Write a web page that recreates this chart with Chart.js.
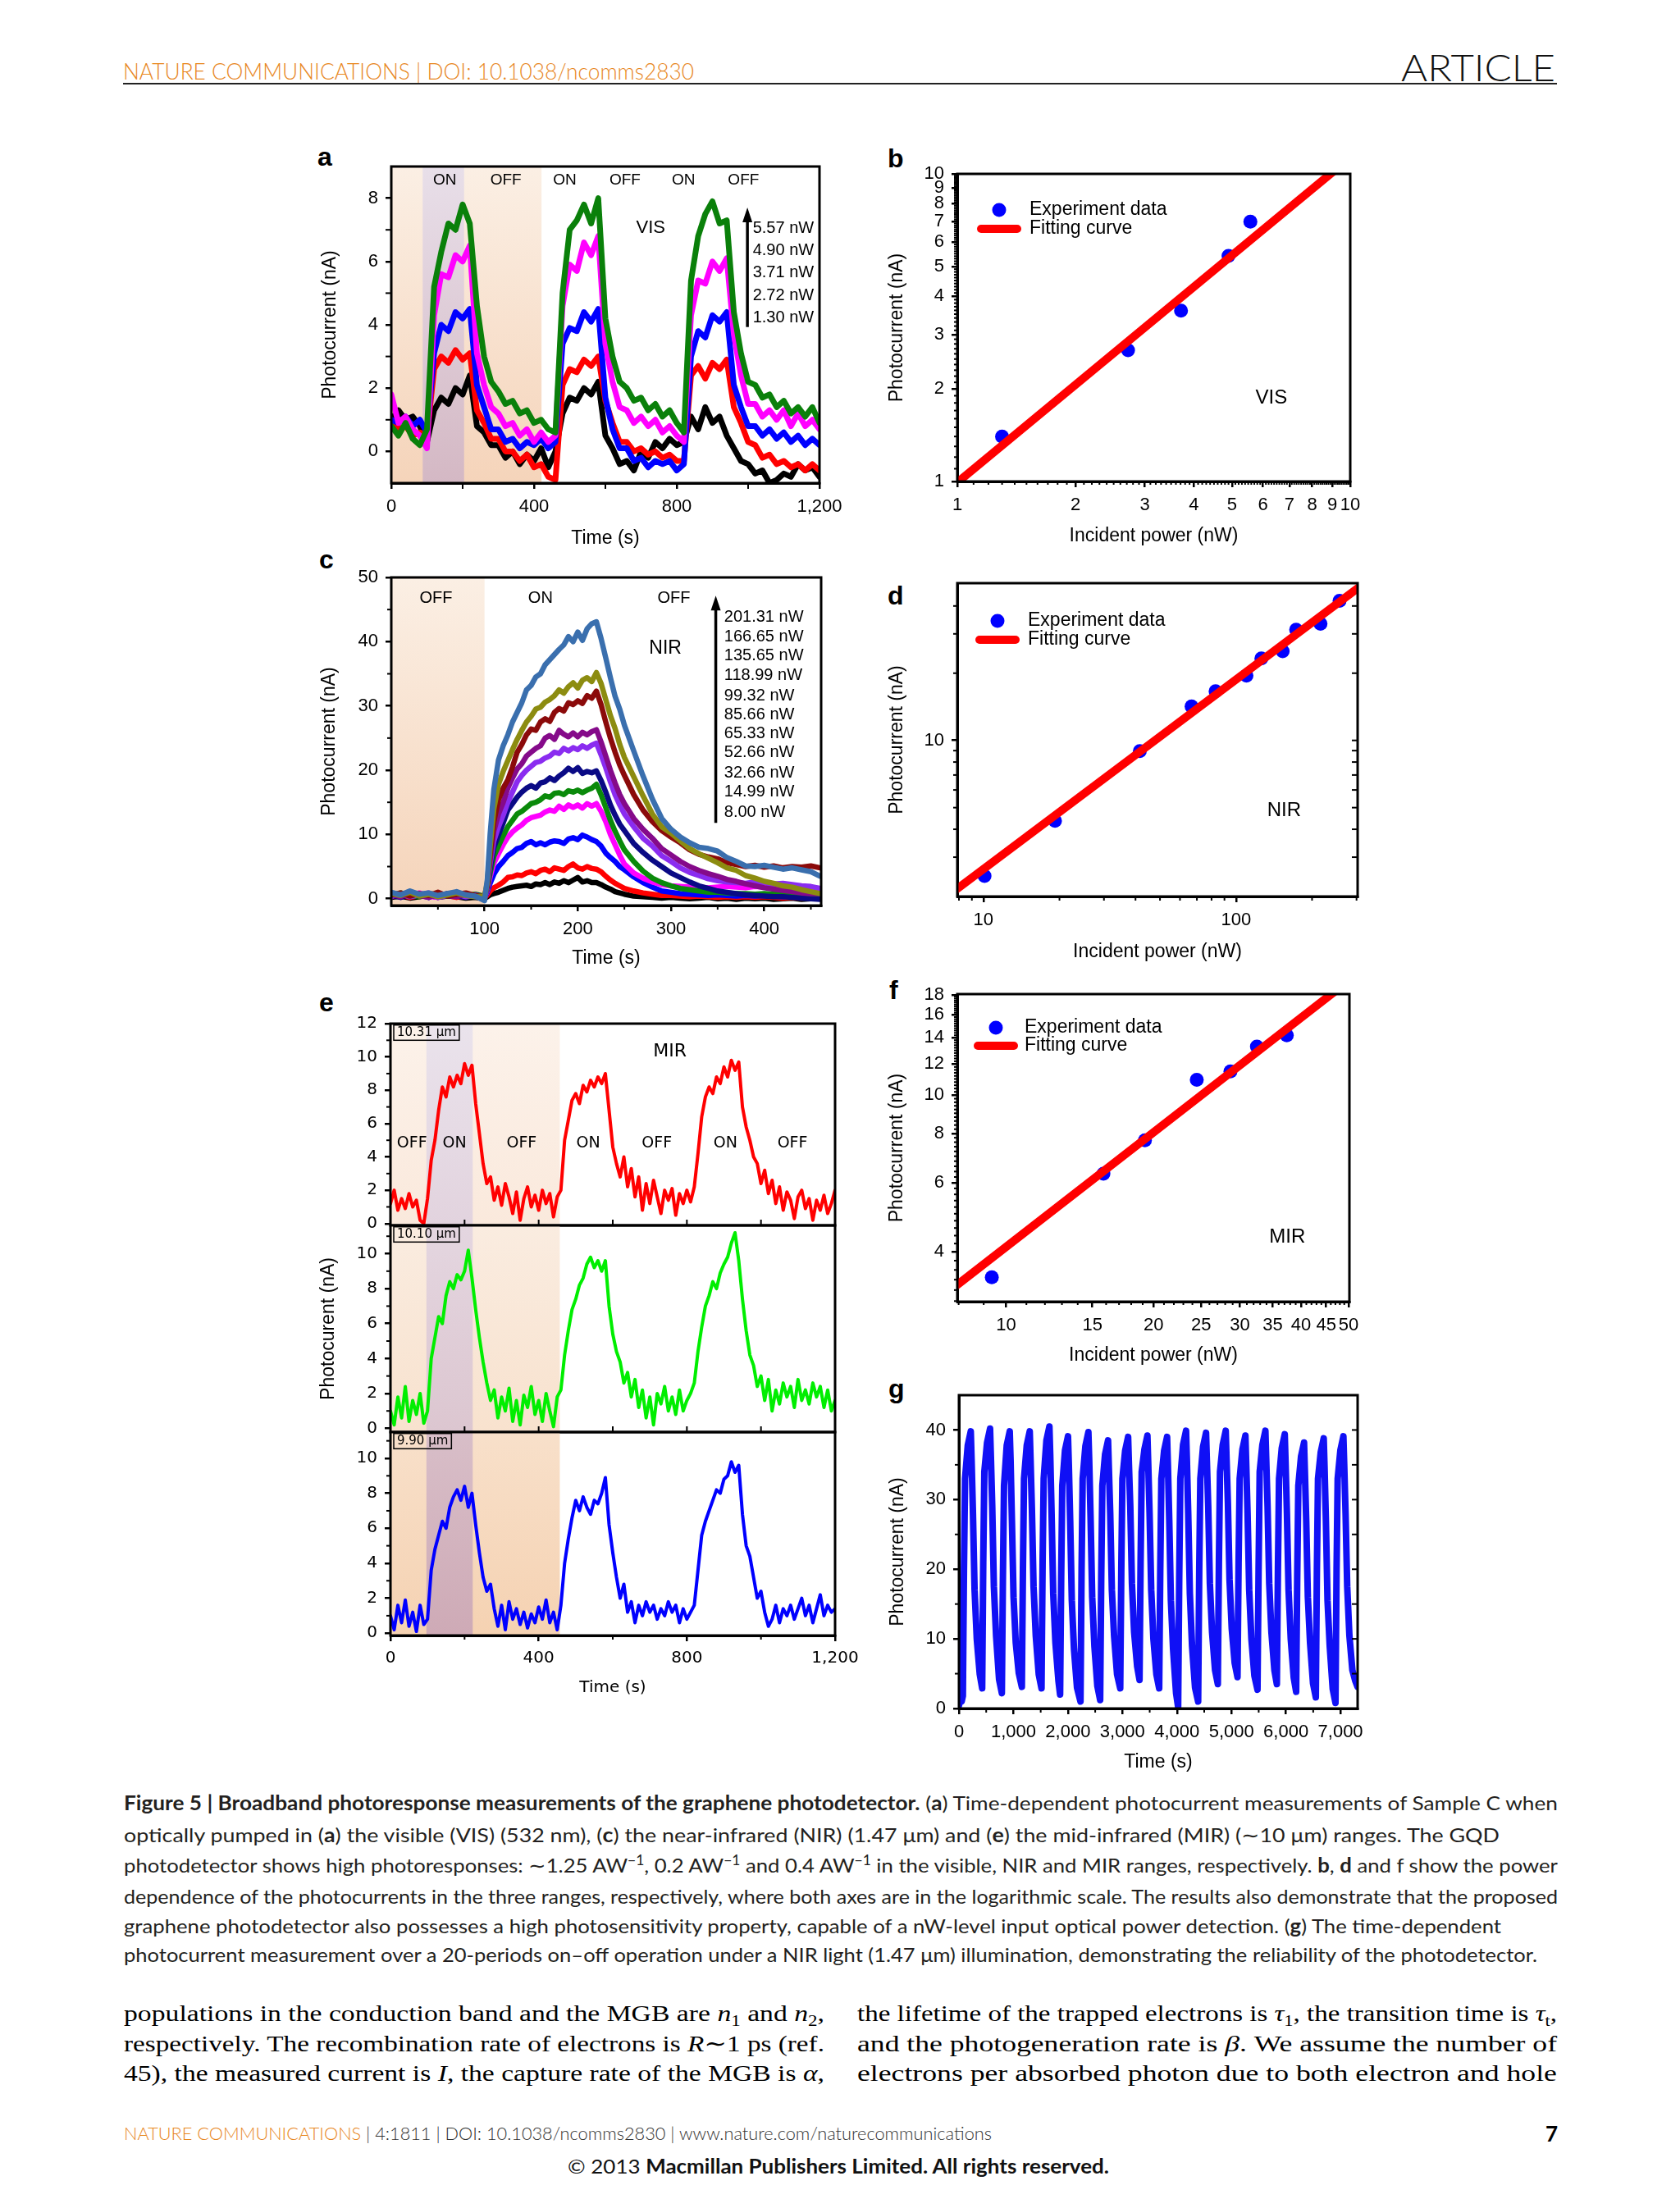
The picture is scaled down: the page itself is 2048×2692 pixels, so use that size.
<!DOCTYPE html>
<html lang="en">
<head>
<meta charset="UTF-8">
<title>Figure 5 - Broadband photoresponse</title>
<style>
  * { box-sizing: border-box; margin: 0; padding: 0; }
  html, body { width: 2048px; height: 2692px; overflow: hidden; background: #fff; }
  body { position: relative; font-family: "Liberation Sans", Arial, sans-serif; }
  .panel { position: absolute; }
  .lab { position: absolute; font: bold 32px "Liberation Sans", Arial, sans-serif; line-height: 1; color: #000; }
  .fit { position: absolute; white-space: nowrap; line-height: 1; transform-origin: 0 50%; }
  .cap { font-family: Lato, "Open Sans", sans-serif; font-size: 24px; color: #231f20; }
  .body { font-family: "Liberation Serif", "DejaVu Serif", serif; font-size: 28px; color: #000; }
  sup { font-size: 0.68em; vertical-align: 0.55em; line-height: 0; }
  sub { font-size: 0.68em; vertical-align: -0.3em; line-height: 0; }
</style>
</head>
<body>

<!-- page header -->
<div class="fit" data-w="696" style="left:150px; top:69px; font: 300 28px Lato, 'Open Sans', sans-serif; color:#e8871e;">NATURE COMMUNICATIONS | DOI: 10.1038/ncomms2830</div>
<div class="fit" data-w="188" style="left:1708px; top:54px; font: 300 46px Lato, 'Open Sans', sans-serif; color:#111;">ARTICLE</div>
<div style="position:absolute; left:150px; top:101px; width:1748px; height:2px; background:#222;"></div>

<!-- panel letters -->
<div class="lab" style="left:387px; top:175px;">a</div>
<div class="lab" style="left:1082px; top:177px;">b</div>
<div class="lab" style="left:389px; top:666px;">c</div>
<div class="lab" style="left:1082px; top:710px;">d</div>
<div class="lab" style="left:389px; top:1206px;">e</div>
<div class="lab" style="left:1084px; top:1191px;">f</div>
<div class="lab" style="left:1083px; top:1677px;">g</div>

<!-- caption -->
<div class="fit cap" data-w="1748" style="left:151px; top:2186px;"><b>Figure 5 | Broadband photoresponse measurements of the graphene photodetector.</b> (<b>a</b>) Time-dependent photocurrent measurements of Sample C when</div>
<div class="fit cap" data-w="1677" style="left:151px; top:2225px;">optically pumped in (<b>a</b>) the visible (VIS) (532 nm), (<b>c</b>) the near-infrared (NIR) (1.47 μm) and (<b>e</b>) the mid-infrared (MIR) (∼10 μm) ranges. The GQD</div>
<div class="fit cap" data-w="1748" style="left:151px; top:2262px;">photodetector shows high photoresponses: ∼1.25 AW<sup>−1</sup>, 0.2 AW<sup>−1</sup> and 0.4 AW<sup>−1</sup> in the visible, NIR and MIR ranges, respectively. <b>b</b>, <b>d</b> and f show the power</div>
<div class="fit cap" data-w="1748" style="left:151px; top:2300px;">dependence of the photocurrents in the three ranges, respectively, where both axes are in the logarithmic scale. The results also demonstrate that the proposed</div>
<div class="fit cap" data-w="1679" style="left:151px; top:2336px;">graphene photodetector also possesses a high photosensitivity property, capable of a nW-level input optical power detection. (<b>g</b>) The time-dependent</div>
<div class="fit cap" data-w="1723" style="left:151px; top:2371px;">photocurrent measurement over a 20-periods on–off operation under a NIR light (1.47 μm) illumination, demonstrating the reliability of the photodetector.</div>

<!-- body text -->
<div class="fit body" data-w="854" style="left:151px; top:2441px;">populations in the conduction band and the MGB are <i>n</i><sub>1</sub> and <i>n</i><sub>2</sub>,</div>
<div class="fit body" data-w="854" style="left:151px; top:2478px;">respectively. The recombination rate of electrons is <i>R</i>∼1 ps (ref.</div>
<div class="fit body" data-w="854" style="left:151px; top:2514px;">45), the measured current is <i>I</i>, the capture rate of the MGB is <i>α</i>,</div>
<div class="fit body" data-w="853" style="left:1045px; top:2441px;">the lifetime of the trapped electrons is <i>τ</i><sub>1</sub>, the transition time is <i>τ</i><sub>t</sub>,</div>
<div class="fit body" data-w="853" style="left:1045px; top:2478px;">and the photogeneration rate is <i>β</i>. We assume the number of</div>
<div class="fit body" data-w="853" style="left:1045px; top:2514px;">electrons per absorbed photon due to both electron and hole</div>

<!-- footer -->
<div class="fit" data-w="1058" style="left:151px; top:2587px; font: 300 22px Lato, 'Open Sans', sans-serif; color:#333;"><span style="color:#e8871e;">NATURE COMMUNICATIONS</span> | 4:1811 | DOI: 10.1038/ncomms2830 | www.nature.com/naturecommunications</div>
<div class="fit" style="left:1884px; top:2585px; font: bold 26px Lato, 'Open Sans', sans-serif;">7</div>
<div class="fit" data-w="660" style="left:692px; top:2626px; font: 24px Lato, 'Open Sans', sans-serif; color:#111;">© 2013 <b>Macmillan Publishers Limited. All rights reserved.</b></div>

<script src="https://cdnjs.cloudflare.com/ajax/libs/Chart.js/4.4.1/chart.umd.min.js"></script>
<script>
// ---------- data ----------
// (a) VIS, time in s, photocurrent in nA
const tA = [0,20,40,60,80,100,120,140,160,180,200,220,240,260,280,300,320,340,360,380,400,420,440,460,480,500,520,540,560,580,600,620,640,660,680,700,720,740,760,780,800,820,840,860,880,900,920,940,960,980,1000,1020,1040,1060,1080,1100,1120,1140,1160,1180,1200];
const aG = [0.8,0.5,0.9,0.4,0.2,0.7,5.2,6.3,7.2,7.0,7.8,7.2,4.6,3.0,2.2,1.9,1.5,1.6,1.2,1.3,0.9,1.0,0.7,0.6,5.0,7.0,7.3,7.8,7.2,8.0,4.2,3.0,2.2,2.0,1.6,1.7,1.3,1.5,1.1,1.3,0.9,0.6,5.4,6.8,7.5,7.9,7.2,7.3,4.4,3.1,2.2,2.1,1.7,1.8,1.4,1.6,1.2,1.4,1.1,1.4,0.9];
const aM = [1.8,0.9,1.1,0.7,0.5,0.1,4.3,5.6,5.5,6.2,6.0,6.5,3.1,2.1,1.4,1.2,0.8,0.9,0.5,0.7,0.3,0.6,0.3,0.5,4.6,5.9,5.7,6.6,6.2,6.8,3.4,2.2,1.4,1.3,0.9,1.1,0.8,1.0,0.6,0.8,0.5,0.3,4.3,5.4,5.3,6.0,5.7,6.1,3.7,2.4,1.5,1.5,1.1,1.3,1.0,1.3,0.8,1.2,0.8,1.0,0.7];
const aB = [1.0,0.9,1.1,0.8,1.0,0.6,3.1,4.0,3.8,4.4,4.2,4.5,2.1,1.4,0.7,0.7,0.3,0.4,0.1,0.3,0.2,0.4,0.1,0.3,3.4,3.9,3.8,4.4,4.1,4.5,1.7,0.7,0.1,0.1,-0.3,-0.2,-0.5,-0.3,-0.4,-0.3,-0.6,-0.4,3.0,3.8,3.6,4.3,4.1,4.4,2.1,1.4,0.8,0.8,0.5,0.7,0.4,0.6,0.3,0.5,0.2,0.4,0.2];
const aR = [0.9,0.7,0.8,0.5,0.6,0.5,2.6,3.0,2.8,3.2,2.9,3.1,1.3,0.9,0.4,0.4,0.0,0.0,-0.3,-0.1,-0.5,-0.4,-0.8,-0.9,2.1,2.6,2.5,2.9,2.7,3.0,1.6,0.9,0.3,0.3,0.0,0.1,-0.1,0.0,-0.2,-0.1,-0.3,-0.3,2.4,2.7,2.3,2.8,2.6,2.9,1.4,0.9,0.3,0.2,-0.2,-0.1,-0.4,-0.3,-0.5,-0.4,-0.6,-0.4,-0.6];
const aK = [1.0,1.3,1.0,1.1,0.8,0.3,1.3,1.7,1.5,2.0,1.8,2.4,0.8,0.6,0.2,0.2,-0.2,0.0,-0.4,-0.1,-0.3,0.1,-0.5,0.0,1.2,1.7,1.6,2.0,1.8,2.2,0.5,0.1,-0.4,-0.3,-0.6,0.0,-0.2,0.3,0.1,0.4,0.2,0.3,1.1,0.7,1.4,0.9,1.1,0.5,0.1,-0.3,-0.4,-0.7,-0.6,-1.0,-0.9,-0.7,-0.8,-0.4,-0.6,-0.5,-0.8];
const aPowers = ['5.57 nW','4.90 nW','3.71 nW','2.72 nW','1.30 nW'];

// (b) VIS power dependence
const bX = [1.30,2.72,3.71,4.90,5.57];
const bY = [1.40,2.67,3.59,5.41,6.99];
const bFitX = [0.95,10];
const bFitY = [0.94,11.3];

// (c) NIR, time in s
const tC = [0,10,20,30,40,50,60,70,80,90,100,103,106,110,115,120,125,130,135,140,145,150,155,160,165,170,175,180,185,190,195,200,205,210,215,220,225,230,235,240,245,250,260,270,280,290,300,310,320,330,340,350,360,370,380,390,400,410,420,430,440,450,460];
const c1 = [1.0,0.6,1.2,0.7,0.9,0.5,0.8,1.1,0.6,0.4,-0.3, 3,10,17,21.6, 23.8,25.5,27.5,29,30.5,32.5,33.2,34.5,35,36.4,37.2,38,38.8,39.5,40.8,40,41.5,40.2,42,42.8,43.1,40.5,37.5,34.4,31.5,29.5,27, 23,19.1,15.5,12.5,10.8,9.6,8.7,8.0,7.8,7.4,6.4,5.8,5.1,5.0,5.2,4.9,4.6,4.8,4.5,4.2,3.5];
const c2 = [0.8,0.5,1.0,0.4,0.7,0.3,0.6,0.9,0.5,0.3,0.4, 2.5,8,14,17.8, 19.8,21.5,23.2,24.8,26.2,27.5,28.4,29.5,29.8,30.6,31,31.6,32.5,32,33,33.6,32.8,34,34.4,33.8,35.2,33.5,31,28.5,26.5,24,22, 19,16,13.2,11.2,10.2,9.0,7.8,7.0,6.3,5.6,4.8,4.4,3.6,3.2,2.7,2.4,2.0,1.8,1.4,1.1,0.8];
const c3 = [0.6,0.9,0.4,0.8,0.5,1.0,0.4,0.7,0.9,0.5,0.3, 2.2,7,12,15.4, 17.2,18.5,20.5,22.8,24,25.5,26.4,26.2,27.5,28,27.6,29,29.6,29.2,30.5,30.2,30.8,30.4,31.6,31.2,32.3,30.2,27.5,25,22.8,20.8,19.2, 16.2,13.8,12,10.6,9.6,8.7,7.6,6.9,6.5,6.2,5.6,5.3,5.0,5.2,4.9,5.1,4.8,5.0,4.9,5.1,4.8];
const c4 = [0.7,0.3,0.9,0.5,0.2,0.8,0.6,0.3,0.7,0.4,0.2, 2,6,10.5,13.2, 15,17.2,18.8,20.2,21,22.2,22.8,23.4,23.8,25,25.4,24.8,26.2,25.6,25.2,25.8,25.2,25.9,25.5,26,26.3,24.4,22.2,20,18,16.2,14.8, 12.5,10.8,9.4,7.8,6.8,5.8,5.0,4.4,3.9,3.5,3.0,2.7,2.3,2.0,1.7,1.5,1.3,1.1,0.9,0.8,0.8];
const c5 = [0.4,0.8,0.3,0.6,0.9,0.2,0.5,0.7,0.3,0.6,0.1, 1.8,5.5,9,11.2, 13,15,16.6,18.2,19.2,20,20.6,21.2,21.4,21.9,22.2,22.8,22.6,23.4,23,23.5,23.2,23.8,23.4,23.9,24.2,22.4,20.4,18.2,16.2,14.6,13.2, 11.2,9.4,8.2,6.7,5.8,4.8,4.1,3.6,3.1,2.8,2.6,2.5,2.4,2.6,2.5,2.3,2.4,2.2,2.0,1.9,1.6];
const c6 = [0.5,0.2,0.7,0.4,0.6,0.3,0.8,0.4,0.2,0.6,0.3, 1.6,4.8,8,9.9, 11.8,13.8,14.8,15.8,16.6,17.2,17.6,17.2,18,18.2,18.8,18.4,19.1,19.6,20.3,19.8,20.4,19.5,19.8,19.6,19.9,18.4,16.6,14.6,13.0,11.6,10.6, 8.6,7.2,6.0,5.0,4.0,3.3,2.6,2.0,1.6,1.2,1.0,0.8,0.6,0.5,0.4,0.3,0.3,0.2,0.1,0.0,-0.1];
const c7 = [0.6,0.9,0.5,0.3,0.8,0.6,0.4,0.9,0.5,0.7,0.4, 1.5,4,6.6,8.2, 9.8,11.2,12.2,13.2,13.6,14.2,14.8,15,15.4,16,15.8,16.4,16.5,16.2,16.8,16.6,16.9,16.5,16.9,17.2,17.8,16.2,14.2,12.2,10.5,9.0,7.6, 5.8,4.3,3.2,2.5,2.0,1.6,1.4,1.2,1.0,1.0,0.9,0.8,0.8,0.7,0.8,0.7,0.8,0.7,0.8,0.7,0.8];
const c8 = [0.3,0.7,0.5,0.9,0.4,0.2,0.6,0.8,0.3,0.5,0.2, 1.3,3.4,5.5,7, 8.4,9.6,10.4,11,11.5,12.2,12.6,12.8,13,13.5,13.8,13.6,14.4,13.9,14.6,14.2,14.6,14.1,14.8,14.4,14.8,13.6,12,10,8.4,6.8,5.4, 4.0,3.2,2.6,2.2,2.0,1.9,1.8,1.8,1.7,1.8,1.9,1.8,1.7,1.9,1.8,2.0,1.9,1.8,1.9,1.7,1.6];
const c9 = [0.5,0.3,0.8,0.6,0.2,0.7,0.4,0.5,0.8,0.3,0.2, 1,2.4,3.8,5, 5.8,6.7,7.2,7.8,8.0,8.6,8.9,8.4,8.7,8.4,8.8,9.0,8.9,8.6,9.3,9.5,9.2,9.9,9.6,9.2,8.9,8.2,7.1,6.4,5.8,5.0,4.5, 3.4,2.5,1.8,1.2,1.0,0.8,0.7,0.6,0.5,0.6,0.5,0.4,0.5,0.4,0.5,0.4,0.3,0.4,0.3,0.4,0.3];
const c10 = [0.4,0.6,0.2,0.5,0.3,0.7,0.5,0.2,0.4,0.6,0.1, 0.6,1.2,1.7,2.1, 2.6,3.3,3.4,3.7,3.6,4.0,4.2,3.9,4.4,4.6,4.2,4.8,4.6,4.4,5.0,5.4,4.8,4.6,5.0,4.7,4.6,4.2,3.5,2.9,2.4,2.0,1.6, 1.2,0.9,0.7,0.5,0.5,0.4,0.3,0.4,0.3,0.2,0.3,0.2,0.3,0.2,0.3,0.2,0.1,0.2,0.1,0.2,0.1];
const c11 = [0.2,0.4,0.1,0.3,0.5,0.2,0.4,0.3,0.1,0.2,0.0, 0.3,0.6,0.8,1.0, 1.3,1.6,1.8,1.9,2.0,2.1,1.9,2.3,2.2,2.5,2.2,2.6,2.4,2.8,2.5,2.9,3.3,2.6,2.8,2.5,2.5,2.2,1.8,1.5,1.1,0.9,0.7, 0.4,0.3,0.2,0.1,0.2,0.1,0.0,0.1,0.2,0.0,0.1,-0.1,0.1,0.0,0.1,-0.1,0.0,0.1,-0.1,0.0,0.1];
const cPowers = ['201.31 nW','166.65 nW','135.65 nW','118.99 nW','99.32 nW','85.66 nW','65.33 nW','52.66 nW','32.66 nW','14.99 nW','8.00 nW'];

// (d) NIR power dependence
const dX = [10.1,19.2,41.6,66.7,83,110,126,153,173,216,257];
const dY = [2.47,4.36,8.96,14.2,16.6,19.5,23.3,25.1,31.3,33.3,42.2];
const dFitX = [7.5,310];
const dFitY = [2.08,48.9];

// (e) MIR, three wavelengths, time in s
const tE = [0,10,20,30,40,50,60,70,80,90,100,110,120,130,140,150,160,170,180,190,200,210,220,230,240,250,260,270,280,290,300,310,320,330,340,350,360,370,380,390,400,410,420,430,440,450,460,470,480,490,500,510,520,530,540,550,560,570,580,590,600,610,620,630,640,650,660,670,680,690,700,710,720,730,740,750,760,770,780,790,800,810,820,830,840,850,860,870,880,890,900,910,920,930,940,950,960,970,980,990,1000,1010,1020,1030,1040,1050,1060,1070,1080,1090,1100,1110,1120,1130,1140,1150,1160,1170,1180,1190,1200];
const e1031 = [1.2,2.0,0.8,1.5,0.9,1.8,1.0,1.4,0.2,0.0,
  1.5,3.8,5.0,6.8,8.2,7.6,8.8,8.2,8.9,8.4,9.6,8.9,9.5,
  7.2,5.4,3.6,2.4,2.8,1.4,2.2,1.1,2.4,1.6,0.6,1.9,0.2,1.5,2.2,1.0,1.7,0.8,2.0,1.2,1.8,0.4,1.6,
  2.0,5.0,6.2,7.4,7.8,7.2,8.3,7.9,8.6,8.2,8.8,8.4,9.0,
  6.8,4.6,3.6,2.8,4.0,2.2,3.3,1.6,2.8,0.8,2.4,1.2,2.6,1.6,0.6,2.0,1.4,2.1,0.5,1.8,1.2,2.0,1.3,
  2.2,4.2,6.4,7.6,8.2,7.8,8.8,8.4,9.4,8.8,9.8,9.2,9.7,
  7.0,5.8,5.0,4.0,3.6,2.4,3.2,1.8,2.6,1.2,2.2,0.8,1.9,1.4,0.3,1.6,2.0,0.9,1.5,0.2,1.4,0.8,1.7,0.6,1.2,2.0];
const e1010 = [1.0,0.2,1.8,0.6,2.4,0.4,1.6,0.8,2.0,0.3,
  1.0,4.0,5.2,6.4,6.0,7.6,8.4,8.0,8.8,8.5,9.0,10.2,8.6,
  6.8,5.2,3.8,2.6,1.6,2.2,0.6,1.8,1.0,2.3,0.4,1.6,0.2,1.9,1.2,2.4,0.8,1.6,0.4,2.0,1.0,0.1,1.8,
  2.2,4.2,5.6,6.8,7.4,8.2,8.6,9.4,9.8,9.2,9.6,9.0,9.6,
  7.0,5.4,4.4,3.8,2.6,3.2,1.8,2.8,1.2,2.2,0.6,1.8,0.2,2.0,1.4,2.4,1.0,1.8,0.8,2.2,1.0,1.6,2.0,
  2.6,4.4,5.8,7.0,7.6,8.4,8.0,8.9,9.4,9.8,10.6,11.2,9.6,
  7.4,5.6,4.2,3.6,2.4,3.0,1.6,2.8,1.0,2.2,1.4,2.6,1.8,2.4,1.2,2.8,1.6,2.2,1.4,2.6,1.8,2.4,1.2,2.2,1.0,1.6];
const e990 = [1.0,0.2,1.6,0.6,1.9,0.4,1.2,0.1,1.6,0.5,
  0.8,3.6,4.8,5.6,6.4,6.0,7.2,7.8,8.2,7.6,8.4,7.2,8.0,
  6.2,4.6,3.2,2.4,2.8,1.4,0.4,1.6,0.2,1.8,0.8,1.4,0.5,1.2,0.3,1.1,0.6,1.5,0.8,1.9,0.6,1.2,0.2,
  1.6,4.0,5.4,6.6,7.6,7.0,7.8,7.2,6.8,7.6,7.4,8.0,8.9,
  6.2,4.6,3.2,2.0,2.8,1.2,1.8,0.6,1.6,1.0,1.8,1.2,1.6,0.8,1.4,1.0,1.8,1.2,1.6,0.6,1.4,0.8,1.2,
  1.6,3.6,5.6,6.4,7.0,7.6,8.2,8.0,8.8,9.0,9.8,9.2,9.6,
  6.8,5.0,4.4,3.2,2.0,2.4,1.2,0.4,0.8,1.6,0.6,1.4,1.0,1.6,0.8,1.4,2.0,1.0,1.6,0.6,1.4,2.2,1.0,1.6,1.2,1.4];

// (f) MIR power dependence
const fX = [9.35,15.8,19.2,24.5,28.7,32.5,37.4];
const fY = [3.45,6.32,7.68,10.95,11.5,13.3,14.2];
const fFitX = [7.9,47];
const fFitY = [3.28,18.4];

// (g) 20 on-off periods under NIR light
const gT = [0,25,50,
  72,92,112,162,217,232,257,287,327,382,
  426,446,466,516,571,586,611,641,681,736,
  787,807,827,877,932,947,972,1002,1042,1097,
  1154,1174,1194,1244,1299,1314,1339,1369,1409,1464,
  1515,1535,1555,1605,1660,1675,1700,1730,1770,1825,
  1856,1876,1896,1946,2001,2016,2041,2071,2111,2166,
  2230,2250,2270,2320,2375,2390,2415,2445,2485,2540,
  2591,2611,2631,2681,2736,2751,2776,2806,2846,2901,
  2959,2979,2999,3049,3104,3119,3144,3174,3214,3269,
  3313,3333,3353,3403,3458,3473,3498,3528,3568,3623,
  3674,3694,3714,3764,3819,3834,3859,3889,3929,3984,
  4022,4042,4062,4112,4167,4182,4207,4237,4277,4332,
  4389,4409,4429,4479,4534,4549,4574,4604,4644,4699,
  4750,4770,4790,4840,4895,4910,4935,4965,5005,5060,
  5111,5131,5151,5201,5256,5271,5296,5326,5366,5421,
  5478,5498,5518,5568,5623,5638,5663,5693,5733,5788,
  5833,5853,5873,5923,5978,5993,6018,6048,6088,6143,
  6187,6207,6227,6277,6332,6347,6372,6402,6442,6497,
  6548,6568,6588,6638,6693,6708,6733,6763,6803,6858,
  6909,6929,6949,6999,7054,7069,7094,7124,7164,7219,
  7270,7315];
const gY = [0.4,1.5,1.0,
  1.8,20,33,37.8,39.8,35.8,28,17,10,4.9,
  2.9,21,34,38.2,40.2,36.2,29,17.5,10.5,4.2,
  2.2,19,32,37.8,39.8,35.8,27,16,9.5,5.1,
  3.1,20,33,37.8,39.8,35.8,28.5,17.5,10.5,4.9,
  2.9,21,33,38.5,40.5,36.5,28,16.5,9.5,4.0,
  2.0,19,32,37.1,39.1,35.1,27,15.5,8.5,3.0,
  1.0,20,33,37.7,39.7,35.7,27.5,16,9,3.2,
  1.2,19,32,36.5,38.5,34.5,28,17,10.5,4.9,
  2.9,20,33,37,39.0,35,29,18,11,6.1,
  4.1,21,34,37.2,39.2,35.2,28,17,10,4.9,
  2.9,20,33,37,39.0,35,27,15.5,8.5,2.2,
  0.2,19,33,37.9,39.9,35.9,28,16.5,9,3.0,
  1.0,20,33,37.6,39.6,35.6,29,18,11,5.5,
  3.5,21,34,37.9,39.9,35.9,29.5,18.5,11.5,6.5,
  4.5,21,33,37.2,39.2,35.2,28,17,10,4.7,
  2.7,20,34,37.9,39.9,35.9,29,18,11,5.5,
  3.5,20,33,37.4,39.4,35.4,28,17,10,4.4,
  2.4,19,32,36.2,38.2,34.2,27,16,9.5,3.6,
  1.6,20,33,36.8,38.8,34.8,27,15.5,9,2.8,
  0.8,20,33,37.1,39.1,35.1,28,17.5,10.5,5.5,
  4.0,3.1];

// ---------- helpers ----------
const FONT = '"Liberation Sans", Arial, Helvetica, sans-serif';
const DJV = '"DejaVu Sans", Verdana, sans-serif';
Chart.defaults.font.family = FONT;
Chart.defaults.color = '#000';

const fmt = v => v >= 1000 ? v.toLocaleString('en-US') : String(v);
const pts = (xs, ys) => xs.map((v, i) => ({ x: v, y: ys[i] }));

function ser(xs, ys, color, w) {
  return { data: pts(xs, ys), borderColor: color, backgroundColor: color, borderWidth: w,
           pointRadius: 0, tension: 0, borderJoinStyle: 'round', borderCapStyle: 'round', fill: false };
}

function ax(type, min, max, list, title, o) {
  o = o || {};
  return {
    type, min, max, display: !o.hide,
    border: { color: '#000', width: 3 },
    grid: { drawOnChartArea: false, tickLength: 7, color: '#000', lineWidth: 2.5 },
    ticks: { color: '#000', font: { family: o.fam || FONT, size: o.fs || 22 }, padding: 9,
             autoSkip: false, maxRotation: 0, minRotation: 0, callback: v => fmt(v) },
    afterBuildTicks: s => { s.ticks = list.map(v => ({ value: v })); },
    title: { display: !!title, text: title || '', color: '#000',
             font: { family: o.tfam || FONT, size: o.tfs || 23 }, padding: 0 }
  };
}

// per-chart decorations: shaded bands, minor ticks, frame, texts, arrows, legend
const deco = {};
const decoPlugin = {
  id: 'deco',
  beforeDatasetsDraw(chart) {
    const d = deco[chart.canvas.id];
    if (!d || !d.bands) return;
    const { ctx, chartArea: ca, scales: { x } } = chart;
    ctx.save();
    d.bands.forEach(b => {
      const x1 = Math.max(ca.left, x.getPixelForValue(b.from));
      const x2 = Math.min(ca.right, x.getPixelForValue(b.to));
      const g = ctx.createLinearGradient(0, ca.top, 0, ca.bottom);
      g.addColorStop(0, b.c[0]);
      g.addColorStop(1, b.c[1]);
      ctx.fillStyle = g;
      ctx.fillRect(x1, ca.top, x2 - x1, ca.bottom - ca.top);
    });
    ctx.restore();
  },
  afterDraw(chart) {
    const d = deco[chart.canvas.id];
    if (!d) return;
    const { ctx, chartArea: ca, scales: { x, y } } = chart;
    const seg = (a, b, c, e) => { ctx.beginPath(); ctx.moveTo(a, b); ctx.lineTo(c, e); ctx.stroke(); };
    ctx.save();
    ctx.strokeStyle = '#000';
    ctx.lineWidth = 2;
    const m = d.minor || {};
    const len = m.len || 4;
    const inX = p => p >= ca.left - 0.5 && p <= ca.right + 0.5;
    const inY = p => p >= ca.top - 0.5 && p <= ca.bottom + 0.5;
    (m.x || []).forEach(v => { const p = x.getPixelForValue(v); if (inX(p)) seg(p, ca.bottom, p, ca.bottom + len); });
    (m.xin || []).forEach(v => { const p = x.getPixelForValue(v); if (inX(p)) seg(p, ca.bottom, p, ca.bottom - len - 2); });
    (m.y || []).forEach(v => { const p = y.getPixelForValue(v); if (inY(p)) seg(ca.left - len, p, ca.left, p); });
    (m.yr || []).forEach(v => { const p = y.getPixelForValue(v); if (inY(p)) seg(ca.right - len - 2, p, ca.right, p); });

    ctx.lineWidth = 3;
    ctx.strokeRect(ca.left, ca.top, ca.right - ca.left, ca.bottom - ca.top);

    ctx.fillStyle = '#000';
    ctx.textBaseline = 'middle';
    (d.texts || []).forEach(t => {
      ctx.font = t.size + 'px ' + (t.fam || FONT);
      ctx.textAlign = t.align || 'center';
      const px = t.px ? ca.left + t.x : x.getPixelForValue(t.x);
      const py = t.px ? ca.top + t.y : y.getPixelForValue(t.y);
      ctx.fillText(t.t, px, py);
      if (t.box) {
        const w = ctx.measureText(t.t).width;
        ctx.lineWidth = 1.5;
        ctx.strokeRect(px - 4, py - t.size * 0.62, w + 8, t.size * 1.24);
      }
    });

    (d.arrows || []).forEach(a => {
      const px = x.getPixelForValue(a.x), p1 = y.getPixelForValue(a.y1), p2 = y.getPixelForValue(a.y2);
      ctx.lineWidth = 3.5;
      seg(px, p1, px, p2 + 10);
      ctx.beginPath();
      ctx.moveTo(px, p2 - 2);
      ctx.lineTo(px - 6, p2 + 16);
      ctx.lineTo(px + 6, p2 + 16);
      ctx.closePath();
      ctx.fill();
    });

    if (d.legend) {
      const L = d.legend;
      ctx.fillStyle = '#0000ff';
      ctx.beginPath();
      ctx.arc(ca.left + L.mx, ca.top + L.y1, 8.5, 0, Math.PI * 2);
      ctx.fill();
      ctx.strokeStyle = '#ff0000';
      ctx.lineWidth = 10;
      ctx.lineCap = 'round';
      seg(ca.left + L.mx - 22, ca.top + L.y2, ca.left + L.mx + 22, ca.top + L.y2);
      ctx.lineCap = 'butt';
      ctx.fillStyle = '#000';
      ctx.font = '23px ' + FONT;
      ctx.textAlign = 'left';
      ctx.fillText('Experiment data', ca.left + L.tx, ca.top + L.y1);
      ctx.fillText('Fitting curve', ca.left + L.tx, ca.top + L.y2);
    }
    ctx.restore();
  }
};
Chart.register(decoPlugin);

// box = plot area [left, top, right, bottom] on the page; L/B = space for y/x axis
function makeChart(id, box, L, B, PB, cfg) {
  const PT = 26, PR = 46;
  const div = document.createElement('div');
  div.className = 'panel';
  div.style.left = (box[0] - L) + 'px';
  div.style.top = (box[1] - PT) + 'px';
  div.style.width = (box[2] - box[0] + L + PR) + 'px';
  div.style.height = (box[3] - box[1] + PT + B + PB) + 'px';
  const cv = document.createElement('canvas');
  cv.id = id;
  div.appendChild(cv);
  document.body.appendChild(div);
  const o = cfg.options;
  o.responsive = true;
  o.maintainAspectRatio = false;
  o.animation = false;
  o.events = [];
  o.layout = { padding: { top: PT, right: PR, bottom: PB, left: 0 } };
  o.plugins = { legend: { display: false }, tooltip: { enabled: false } };
  o.scales.x.afterFit = s => { s.height = B; };
  o.scales.y.afterFit = s => { s.width = L; };
  return new Chart(cv, cfg);
}

const PEACH = ['rgb(251,239,228)', 'rgb(245,212,186)'];
const LAV = ['rgb(232,223,233)', 'rgb(212,184,196)'];

// ---------- (a) ----------
deco.cA = {
  bands: [{ from: 0, to: 421, c: PEACH }, { from: 88, to: 204, c: LAV }],
  minor: { x: [200, 600, 1000], y: [1, 3, 5, 7], len: 7 },
  texts: [
    { x: 150, y: 8.56, t: 'ON', size: 19 }, { x: 321, y: 8.56, t: 'OFF', size: 19 },
    { x: 486, y: 8.56, t: 'ON', size: 19 }, { x: 655, y: 8.56, t: 'OFF', size: 19 },
    { x: 819, y: 8.56, t: 'ON', size: 19 }, { x: 987, y: 8.56, t: 'OFF', size: 19 },
    { x: 727, y: 7.05, t: 'VIS', size: 22 }
  ].concat(aPowers.map((p, i) => ({ x: 1013, y: [7.05, 6.34, 5.64, 4.93, 4.21][i], t: p, size: 20, align: 'left' }))),
  arrows: [{ x: 998, y1: 3.93, y2: 7.65 }]
};
makeChart('cA', [477, 203, 999, 589], 88, 81, 0, {
  type: 'line',
  data: { datasets: [
    ser(tA, aG, '#0a800a', 7), ser(tA, aM, '#ff00ff', 7), ser(tA, aB, '#0000ff', 7),
    ser(tA, aR, '#ff0000', 7), ser(tA, aK, '#000000', 7)
  ] },
  options: { scales: {
    x: ax('linear', 0, 1200, [0, 400, 800, 1200], 'Time (s)'),
    y: ax('linear', -1, 9, [0, 2, 4, 6, 8], 'Photocurrent (nA)')
  } }
});

// ---------- (b) ----------
const bMinor = [];
for (let k = 11; k < 100; k++) if (k % 10) bMinor.push(k / 10);
deco.cB = {
  minor: { x: bMinor, y: bMinor, len: 4 },
  texts: [{ x: 6.3, y: 1.87, t: 'VIS', size: 24 }],
  legend: { mx: 51, tx: 88, y1: 44, y2: 67 }
};
makeChart('cB', [1167, 212, 1646, 587], 87, 80, 0, {
  type: 'line',
  data: { datasets: [
    Object.assign(ser(bFitX, bFitY, '#ff0000', 10), { clip: 0, borderCapStyle: 'butt' }),
    { data: pts(bX, bY), showLine: false, pointRadius: 8.5, pointBackgroundColor: '#0000ff', pointBorderWidth: 0 }
  ] },
  options: { scales: {
    x: ax('logarithmic', 1, 10, [1, 2, 3, 4, 5, 6, 7, 8, 9, 10], 'Incident power (nW)'),
    y: ax('logarithmic', 1, 10, [1, 2, 3, 4, 5, 6, 7, 8, 9, 10], 'Photocurrent (nA)')
  } }
});

// ---------- (c) ----------
deco.cC = {
  bands: [{ from: 0, to: 100, c: PEACH }],
  minor: { x: [50, 150, 250, 350, 450], y: [5, 15, 25, 35, 45], len: 5 },
  texts: [
    { x: 48, y: 46.7, t: 'OFF', size: 20 }, { x: 160, y: 46.7, t: 'ON', size: 20 },
    { x: 303, y: 46.7, t: 'OFF', size: 20 }, { x: 294, y: 38.9, t: 'NIR', size: 23 }
  ].concat(cPowers.map((p, i) => ({ x: 357, y: [43.8, 40.8, 37.8, 34.7, 31.5, 28.6, 25.7, 22.7, 19.6, 16.6, 13.4][i], t: p, size: 20, align: 'left' }))),
  arrows: [{ x: 348, y1: 11.8, y2: 46.9 }]
};
makeChart('cC', [477, 704, 1001, 1104], 89, 78, 0, {
  type: 'line',
  data: { datasets: [
    ser(tC, c1, '#3a6fae', 6.5), ser(tC, c2, '#8c8c10', 6.5), ser(tC, c3, '#8b0a0a', 6.5),
    ser(tC, c4, '#850a8a', 6.5), ser(tC, c5, '#8a2cf0', 6.5), ser(tC, c6, '#0a0a85', 6.5),
    ser(tC, c7, '#0a8a0a', 6.5), ser(tC, c8, '#ff00ff', 6.5), ser(tC, c9, '#0000ff', 6.5),
    ser(tC, c10, '#ff0000', 6.5), ser(tC, c11, '#000000', 6.5)
  ] },
  options: { scales: {
    x: ax('linear', 0, 461, [100, 200, 300, 400], 'Time (s)'),
    y: ax('linear', -1.06, 50, [0, 10, 20, 30, 40, 50], 'Photocurrent (nA)')
  } }
});

// ---------- (d) ----------
deco.cD = {
  minor: { x: [8, 9, 20, 30, 40, 50, 60, 70, 80, 90, 200, 300], y: [3, 4, 5, 6, 7, 8, 9, 20, 30, 40],
           yr: [3, 4, 5, 6, 7, 8, 9, 10, 20, 30, 40], len: 5 },
  texts: [{ x: 155, y: 4.83, t: 'NIR', size: 24 }],
  legend: { mx: 49, tx: 86, y1: 46, y2: 69 }
};
makeChart('cD', [1167, 711, 1655, 1093], 87, 81, 0, {
  type: 'line',
  data: { datasets: [
    Object.assign(ser(dFitX, dFitY, '#ff0000', 10), { clip: 0, borderCapStyle: 'butt' }),
    { data: pts(dX, dY), showLine: false, pointRadius: 8.5, pointBackgroundColor: '#0000ff', pointBorderWidth: 0 }
  ] },
  options: { scales: {
    x: ax('logarithmic', 7.88, 303, [10, 100], 'Incident power (nW)'),
    y: ax('logarithmic', 2.0, 50.6, [10], 'Photocurrent (nA)')
  } }
});

// ---------- (e) ----------
const eOpt = { fam: DJV, fs: 20 };
const eTop = { x: [], xin: [200, 400, 600, 800, 1000], y: [1, 3, 5, 7, 9, 11], len: 5 };
deco.cE1 = {
  bands: [{ from: 0, to: 457, c: ['rgb(252,242,234)', 'rgb(250,233,220)'] },
          { from: 97, to: 222, c: ['rgb(234,227,236)', 'rgb(226,211,222)'] }],
  minor: eTop,
  texts: [
    { x: 58, y: 4.8, t: 'OFF', size: 19, fam: DJV }, { x: 173, y: 4.8, t: 'ON', size: 19, fam: DJV },
    { x: 354, y: 4.8, t: 'OFF', size: 19, fam: DJV }, { x: 534, y: 4.8, t: 'ON', size: 19, fam: DJV },
    { x: 719, y: 4.8, t: 'OFF', size: 19, fam: DJV }, { x: 904, y: 4.8, t: 'ON', size: 19, fam: DJV },
    { x: 1085, y: 4.8, t: 'OFF', size: 19, fam: DJV }, { x: 754, y: 10.3, t: 'MIR', size: 22, fam: DJV },
    { px: true, x: 8, y: 11, t: '10.31 μm', size: 15, fam: DJV, align: 'left', box: true }
  ]
};
deco.cE2 = {
  bands: [{ from: 0, to: 457, c: ['rgb(250,236,224)', 'rgb(248,226,206)'] },
          { from: 97, to: 222, c: ['rgb(228,214,224)', 'rgb(220,198,208)'] }],
  minor: eTop,
  texts: [{ px: true, x: 8, y: 11, t: '10.10 μm', size: 15, fam: DJV, align: 'left', box: true }]
};
deco.cE3 = {
  bands: [{ from: 0, to: 457, c: ['rgb(248,224,202)', 'rgb(245,210,178)'] },
          { from: 97, to: 222, c: ['rgb(216,190,200)', 'rgb(206,170,182)'] }],
  minor: { x: [200, 600, 1000], y: [1, 3, 5, 7, 9, 11], len: 5 },
  texts: [{ px: true, x: 8, y: 11, t: '9.90 μm', size: 15, fam: DJV, align: 'left', box: true }]
};
makeChart('cE1', [476, 1248, 1018, 1494], 89, 0, 24, {
  type: 'line',
  data: { datasets: [ser(tE, e1031, '#ff0000', 4)] },
  options: { scales: {
    x: ax('linear', 0, 1200, [], '', { hide: true }),
    y: ax('linear', -0.11, 12, [0, 2, 4, 6, 8, 10, 12], '', eOpt)
  } }
});
makeChart('cE2', [476, 1494, 1018, 1746], 89, 0, 24, {
  type: 'line',
  data: { datasets: [ser(tE, e1010, '#00ee00', 4)] },
  options: { scales: {
    x: ax('linear', 0, 1200, [], '', { hide: true }),
    y: ax('linear', -0.21, 11.62, [0, 2, 4, 6, 8, 10], 'Photocurent (nA)', eOpt)
  } }
});
makeChart('cE3', [476, 1746, 1018, 1994], 89, 76, 0, {
  type: 'line',
  data: { datasets: [ser(tE, e990, '#0000ff', 4)] },
  options: { scales: {
    x: ax('linear', 0, 1200, [0, 400, 800, 1200], 'Time (s)', { fam: DJV, fs: 20, tfam: DJV, tfs: 20 }),
    y: ax('linear', -0.13, 11.5, [0, 2, 4, 6, 8, 10], '', eOpt)
  } }
});

// ---------- (f) ----------
const fMx = [], fMy = [];
for (let v = 8; v <= 50; v++) if (v % 5) fMx.push(v);
for (let k = 15; k <= 90; k++) if ((k / 5) % 2) fMy.push(k / 5);
deco.cF = {
  minor: { x: fMx, y: fMy, len: 4 },
  texts: [{ x: 37.5, y: 4.35, t: 'MIR', size: 24 }],
  legend: { mx: 47, tx: 82, y1: 41, y2: 63 }
};
makeChart('cF', [1167, 1212, 1645, 1587], 87, 79, 0, {
  type: 'line',
  data: { datasets: [
    Object.assign(ser(fFitX, fFitY, '#ff0000', 10), { clip: 0, borderCapStyle: 'butt' }),
    { data: pts(fX, fY), showLine: false, pointRadius: 8.5, pointBackgroundColor: '#0000ff', pointBorderWidth: 0 }
  ] },
  options: { scales: {
    x: ax('logarithmic', 7.95, 50.2, [10, 15, 20, 25, 30, 35, 40, 45, 50], 'Incident power (nW)'),
    y: ax('logarithmic', 2.99, 18.07, [4, 6, 8, 10, 12, 14, 16, 18], 'Photocurrent (nA)')
  } }
});

// ---------- (g) ----------
deco.cG = {
  minor: { x: [500, 1500, 2500, 3500, 4500, 5500, 6500], y: [5, 15, 25, 35],
           yr: [5, 10, 15, 20, 25, 30, 35, 40], len: 5 }
};
makeChart('cG', [1169, 1701, 1655, 2083], 88, 79, 0, {
  type: 'line',
  data: { datasets: [ser(gT, gY, '#1010f5', 8)] },
  options: { scales: {
    x: ax('linear', 0, 7315, [0, 1000, 2000, 3000, 4000, 5000, 6000, 7000], 'Time (s)'),
    y: ax('linear', 0, 45, [0, 10, 20, 30, 40], 'Photocurrent (nA)')
  } }
});

// ---------- squeeze text lines to their widths in the reference ----------
function fitAll() {
  document.querySelectorAll('[data-w]').forEach(el => {
    el.style.transform = 'none';
    const w = el.getBoundingClientRect().width;
    if (w > 0) el.style.transform = 'scaleX(' + (parseFloat(el.dataset.w) / w).toFixed(4) + ')';
  });
}
fitAll();
if (document.fonts && document.fonts.ready) document.fonts.ready.then(fitAll);
</script>
</body>
</html>
